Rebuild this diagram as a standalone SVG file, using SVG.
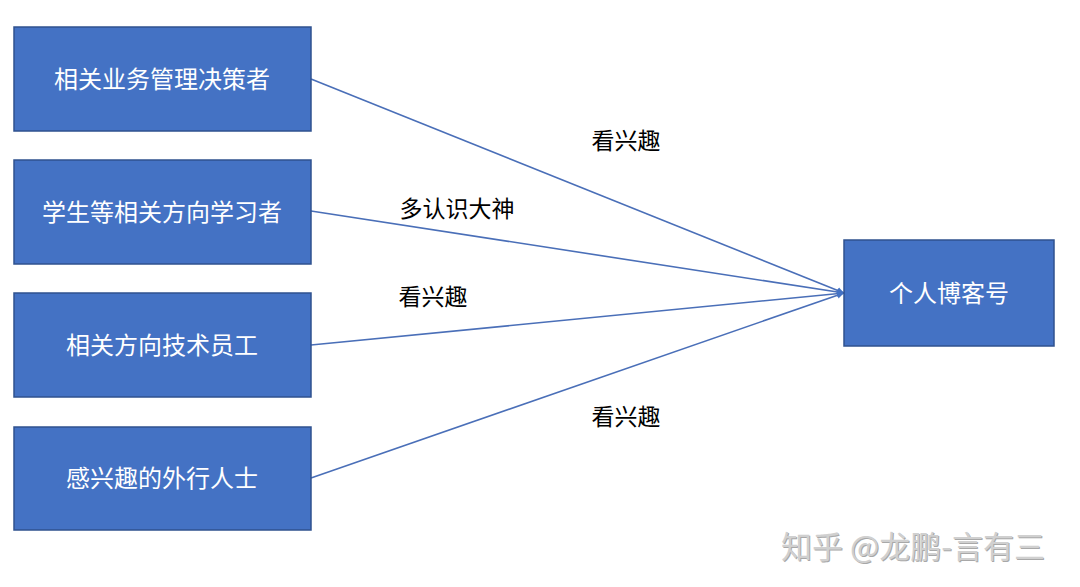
<svg xmlns="http://www.w3.org/2000/svg" width="1080" height="587" viewBox="0 0 1080 587">
<style>
.box{fill:#4472C4;stroke:#2F528F;stroke-width:1.5}
.bt{font-family:"Liberation Sans","Noto Sans CJK SC",sans-serif;font-size:24px;fill:#ffffff;text-anchor:middle;dominant-baseline:central}
.lbl{font-family:"Liberation Sans","Noto Sans CJK SC",sans-serif;font-size:23px;fill:#000000;text-anchor:middle;dominant-baseline:central}
.conn{stroke:#4a6fb8;stroke-width:1.6;fill:none;marker-end:url(#arr)}
.wm{font-family:"Noto Sans CJK SC",sans-serif;font-size:31px;fill:#d0d0d0;dominant-baseline:central}
</style>
<defs>
<marker id="arr" viewBox="0 0 10 10" refX="10" refY="5" markerWidth="7" markerHeight="7" orient="auto" markerUnits="userSpaceOnUse">
<path d="M0,0 L10,5 L0,10 z" fill="#4472C4"/>
</marker>
</defs>
<rect width="1080" height="587" fill="#ffffff"/>
<g id="connectors">
<line class="conn" x1="311" y1="79" x2="844" y2="293"/>
<line class="conn" x1="311" y1="211" x2="844" y2="293"/>
<line class="conn" x1="311" y1="345" x2="844" y2="293"/>
<line class="conn" x1="311" y1="478" x2="844" y2="293"/>
<text class="lbl" x="626" y="141">看兴趣</text>
<text class="lbl" x="457" y="209">多认识大神</text>
<text class="lbl" x="433" y="297">看兴趣</text>
<text class="lbl" x="626" y="417">看兴趣</text>
</g>
<g id="n1"><rect class="box" x="14" y="27" width="297" height="104"/><text class="bt" x="162" y="79">相关业务管理决策者</text></g>
<g id="n2"><rect class="box" x="14" y="160" width="297" height="104"/><text class="bt" x="162" y="212">学生等相关方向学习者</text></g>
<g id="n3"><rect class="box" x="14" y="293" width="297" height="104"/><text class="bt" x="162" y="345">相关方向技术员工</text></g>
<g id="n4"><rect class="box" x="14" y="427" width="297" height="103"/><text class="bt" x="162" y="478">感兴趣的外行人士</text></g>
<g id="n5"><rect class="box" x="844" y="240" width="210" height="106"/><text class="bt" x="949" y="293">个人博客号</text></g>
<g id="watermark">
<text class="wm" x="781" y="544" style="fill:#a8a8a8" dx="1" dy="1">知乎 @龙鹏-言有三</text>
<text class="wm" x="781" y="544">知乎 @龙鹏-言有三</text>
</g>
</svg>
